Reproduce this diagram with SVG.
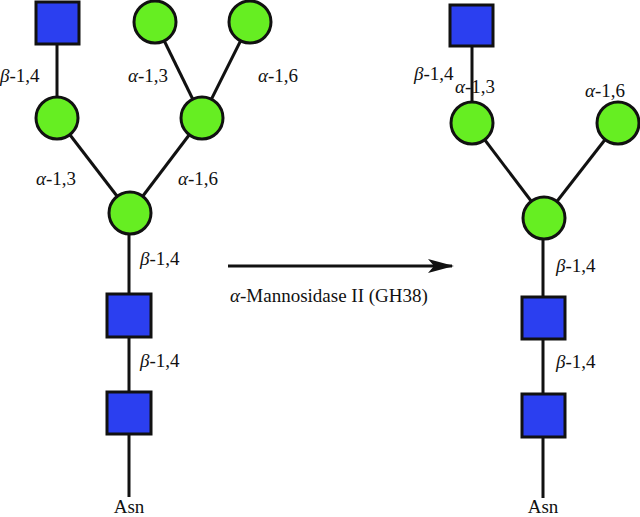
<svg xmlns="http://www.w3.org/2000/svg" width="640" height="517" viewBox="0 0 640 517">
<style>
.sq{fill:#2b3ff0;stroke:#111;stroke-width:3}
.ci{fill:#66ee22;stroke:#111;stroke-width:3}
.ln{stroke:#111;stroke-width:3;fill:none}
text{font-family:"Liberation Serif",serif;font-size:19px;fill:#111}
.g{font-style:italic}
</style>
<defs><marker id="ah" markerWidth="10" markerHeight="8" refX="9" refY="4" orient="auto" markerUnits="userSpaceOnUse"><path d="M0,0 L24,4 L0,8 L5,4 Z" transform="scale(0.42,1)"/></marker>
<marker id="a2" markerWidth="26" markerHeight="14" refX="24" refY="7" orient="auto" markerUnits="userSpaceOnUse"><path d="M0,0 L26,7 L0,14 L6,7 Z" fill="#111"/></marker></defs>
<g id="connectors" class="ln">
<line x1="57" y1="23" x2="57" y2="118"/>
<line x1="57" y1="118" x2="130" y2="213"/>
<line x1="202" y1="118" x2="130" y2="213"/>
<line x1="155" y1="22" x2="202" y2="118"/>
<line x1="250" y1="22" x2="202" y2="118"/>
<line x1="129" y1="213" x2="129" y2="497"/>
<line x1="472" y1="25" x2="472" y2="123"/>
<line x1="472" y1="123" x2="544" y2="218"/>
<line x1="618" y1="123" x2="544" y2="218"/>
<line x1="543" y1="218" x2="543" y2="498"/>
<line x1="228" y1="266" x2="452" y2="266" marker-end="url(#a2)"/>
</g>
<g id="left">
<rect id="L_sq1" class="sq" x="36" y="2" width="43" height="42"/>
<circle id="L_c1" class="ci" cx="57" cy="118" r="21"/>
<circle id="L_c2" class="ci" cx="155" cy="22" r="21"/>
<circle id="L_c3" class="ci" cx="250" cy="22" r="21"/>
<circle id="L_c4" class="ci" cx="202" cy="118" r="21"/>
<circle id="L_c5" class="ci" cx="130" cy="213" r="21"/>
<rect id="L_sq2" class="sq" x="107" y="294" width="44" height="43"/>
<rect id="L_sq3" class="sq" x="107" y="392" width="44" height="42"/>
</g>
<g id="right">
<rect id="R_sq1" class="sq" x="450" y="5" width="43" height="41"/>
<circle id="R_c1" class="ci" cx="472" cy="123" r="21"/>
<circle id="R_c2" class="ci" cx="618" cy="123" r="21"/>
<circle id="R_c3" class="ci" cx="544" cy="218" r="21"/>
<rect id="R_sq2" class="sq" x="522" y="297" width="43" height="42"/>
<rect id="R_sq3" class="sq" x="522" y="394" width="43" height="43"/>
</g>
<g id="labels">
<text x="0" y="82"><tspan class="g">β</tspan>-1,4</text>
<text x="128" y="82"><tspan class="g">α</tspan>-1,3</text>
<text x="258" y="82"><tspan class="g">α</tspan>-1,6</text>
<text x="36" y="185"><tspan class="g">α</tspan>-1,3</text>
<text x="178" y="185"><tspan class="g">α</tspan>-1,6</text>
<text x="140" y="265"><tspan class="g">β</tspan>-1,4</text>
<text x="140" y="367"><tspan class="g">β</tspan>-1,4</text>
<text x="129" y="513" text-anchor="middle">Asn</text>
<text x="230" y="302"><tspan class="g">α</tspan>-Mannosidase II (GH38)</text>
<text x="414" y="80"><tspan class="g">β</tspan>-1,4</text>
<text x="455" y="93"><tspan class="g">α</tspan>-1,3</text>
<text x="585" y="97"><tspan class="g">α</tspan>-1,6</text>
<text x="556" y="272"><tspan class="g">β</tspan>-1,4</text>
<text x="556" y="368"><tspan class="g">β</tspan>-1,4</text>
<text x="543" y="513" text-anchor="middle">Asn</text>
</g>
</svg>
